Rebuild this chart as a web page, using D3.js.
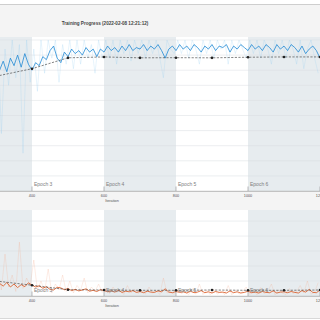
<!DOCTYPE html>
<html lang="en">
<head>
    <meta charset="UTF-8">
    <title>Training Progress</title>
    <style>
        body {
            margin: 0;
            padding: 0;
            background-color: #ffffff;
        }
        svg {
            display: block;
            font-family: "Liberation Sans", Arial, sans-serif;
        }
        .grid line {
            stroke: #d9dde0;
            stroke-width: 0.5px;
        }
        .tick-label {
            font-size: 3.8px;
            fill: #555;
        }
        .epoch-label {
            font-size: 5px;
            fill: #808080;
        }
    </style>
</head>
<body>
    <svg id="chart" width="320" height="320"></svg>

    <script src="https://d3js.org/d3.v7.min.js"></script>
    <script>
        // smoothed training values, every 10 iterations from 310 to 1200
        const iters = d3.range(310, 1201, 10);
        const accSmooth = [
            80, 86, 79, 88, 83, 90, 82, 91, 84, 80,
            85, 83, 89, 87, 93, 96, 88, 85, 92, 89,
            94, 91, 93, 90, 95, 92, 94, 89, 94, 92,
            96, 93, 95, 92, 96, 93, 97, 93, 95, 94,
            97, 93, 96, 94, 97, 93, 88, 94, 96, 93,
            97, 94, 96, 93, 97, 95, 92, 96, 94, 97,
            93, 96, 95, 97, 92, 96, 94, 97, 95, 93,
            97, 94, 96, 93, 97, 95, 92, 97, 94, 96,
            93, 97, 95, 92, 96, 91, 94, 96, 93, 88
        ];
        const lossSmooth = [
            .42, .33, .45, .30, .40, .28, .38, .31, .44, .36,
            .30, .34, .26, .31, .22, .20, .29, .27, .21, .25,
            .18, .22, .17, .20, .24, .16, .19, .15, .21, .18,
            .14, .17, .13, .19, .12, .16, .14, .18, .12, .15,
            .11, .16, .13, .12, .17, .14, .24, .13, .11, .15,
            .12, .14, .10, .16, .11, .13, .18, .11, .14, .10,
            .15, .12, .13, .10, .17, .11, .14, .10, .12, .16,
            .11, .13, .10, .15, .12, .11, .17, .10, .13, .14,
            .11, .15, .12, .10, .18, .13, .22, .12, .11, .20
        ];

        // raw minibatch values, every 10 iterations from 305 to 1195
        const rawIters = d3.range(305, 1196, 10);
        const accRaw = [
            100, 38, 94, 70, 100, 75, 97, 25, 100, 72,
            94, 66, 100, 78, 100, 88, 100, 72, 97, 84,
            100, 81, 100, 84, 100, 88, 97, 78, 100, 88,
            100, 88, 100, 84, 100, 91, 100, 86, 100, 91,
            100, 88, 100, 91, 100, 88, 75, 100, 94, 91,
            100, 91, 100, 88, 100, 94, 84, 100, 91, 100,
            88, 100, 94, 100, 84, 100, 91, 100, 94, 88,
            100, 91, 100, 88, 100, 94, 84, 100, 91, 100,
            88, 100, 94, 84, 100, 81, 94, 100, 88, 78
        ];
        const lossRaw = [
            .9, .2, 1.4, .3, .7, .15, 1.8, .25, .6, .35,
            1.2, .2, .5, .15, .9, .1, .4, .2, .7, .15,
            .5, .1, .35, .2, .6, .1, .3, .15, .4, .12,
            .25, .08, .3, .12, .2, .05, .35, .1, .22, .08,
            .2, .06, .3, .1, .18, .05, .6, .1, .15, .05,
            .2, .08, .15, .04, .25, .06, .4, .05, .2, .04,
            .22, .06, .15, .05, .35, .04, .2, .06, .15, .3,
            .05, .18, .04, .28, .08, .15, .4, .04, .2, .1,
            .05, .25, .08, .15, .35, .1, .5, .06, .12, .45
        ];

        // validation, every 100 iterations
        const valIters = [300, 400, 500, 600, 700, 800, 900, 1000, 1100, 1200];
        const valAcc = [76, 81, 88.2, 88.8, 88.2, 88.3, 88.2, 88.6, 88.8, 88.8];
        const valLoss = [0.5, 0.36, 0.21, 0.2, 0.19, 0.19, 0.2, 0.19, 0.19, 0.2];

        // epochs
        const epochStarts = [200, 400, 600, 800, 1000];
        const epochNums = [2, 3, 4, 5, 6];
        const xTicks = [400, 600, 800, 1000, 1200];
        const titleText = 'Training Progress (2022-02-08 12:21:12)';

        const svg = d3.select('#chart');
        const W = 320, H = 320;

        svg.append('rect').attr('width', W).attr('height', H).attr('fill', '#f4f4f4');
        svg.append('rect').attr('width', W).attr('height', 4).attr('fill', '#ffffff');
        svg.append('rect').attr('y', 319).attr('width', W).attr('height', 1).attr('fill', '#ffffff');
        svg.append('line').attr('x1', 0).attr('x2', W).attr('y1', 4.5).attr('y2', 4.5)
            .attr('stroke', '#c4c4c4').attr('stroke-width', 0.8);
        svg.append('line').attr('x1', 0).attr('x2', W).attr('y1', 318.5).attr('y2', 318.5)
            .attr('stroke', '#d0d0d0').attr('stroke-width', 0.8);

        svg.append('text')
            .attr('x', 105).attr('y', 24.5)
            .attr('text-anchor', 'middle')
            .attr('font-size', 4.6).attr('font-weight', 'bold').attr('fill', '#444')
            .text(titleText);

        const x = d3.scaleLinear().domain([300, 1200]).range([-4, 320]);

        const panels = [
            { top: 37, bottom: 191, y: d3.scaleLinear().domain([0, 102]).range([191, 37]),
              grid: d3.range(10, 101, 10), smooth: accSmooth, raw: accRaw, val: valAcc,
              color: '#2189d4', rawColor: '#8ccbf2', labelY: 186 },
            { top: 210, bottom: 296, y: d3.scaleLinear().domain([0, 2.87]).range([296, 210]),
              grid: d3.range(0.5, 2.9, 0.5), smooth: lossSmooth, raw: lossRaw, val: valLoss,
              color: '#d9531b', rawColor: '#f3a583', labelY: 292 }
        ];

        panels.forEach((p, pi) => {
            const clipId = 'clip' + pi;
            svg.append('clipPath').attr('id', clipId)
                .append('rect').attr('x', 0).attr('y', p.top).attr('width', W).attr('height', p.bottom - p.top);
            const g = svg.append('g').attr('clip-path', `url(#${clipId})`);

            // epoch bands
            g.selectAll('.band')
                .data(epochStarts)
                .enter().append('rect')
                .attr('x', d => x(d))
                .attr('width', d => x(d + 200) - x(d))
                .attr('y', p.top)
                .attr('height', p.bottom - p.top)
                .attr('fill', (d, i) => epochNums[i] % 2 === 0 ? '#e7ecef' : '#ffffff');

            // grid
            g.append('g').attr('class', 'grid')
                .selectAll('line')
                .data(p.grid)
                .enter().append('line')
                .attr('x1', 0).attr('x2', W)
                .attr('y1', d => p.y(d)).attr('y2', d => p.y(d));

            // raw line, faint
            g.append('path')
                .datum(p.raw)
                .attr('fill', 'none')
                .attr('stroke', p.rawColor)
                .attr('stroke-opacity', 0.35)
                .attr('stroke-width', 0.6)
                .attr('d', d3.line().x((d, i) => x(rawIters[i])).y(d => p.y(d)));

            // smoothed line
            g.append('path')
                .datum(p.smooth)
                .attr('fill', 'none')
                .attr('stroke', p.color)
                .attr('stroke-width', 0.8)
                .attr('d', d3.line().x((d, i) => x(iters[i])).y(d => p.y(d)));

            // validation
            g.append('path')
                .datum(p.val)
                .attr('fill', 'none')
                .attr('stroke', '#333')
                .attr('stroke-width', 0.6)
                .attr('stroke-dasharray', '2.2,1.4')
                .attr('d', d3.line().x((d, i) => x(valIters[i])).y(d => p.y(d)));

            g.selectAll('.valdot')
                .data(p.val)
                .enter().append('circle')
                .attr('cx', (d, i) => x(valIters[i]))
                .attr('cy', d => p.y(d))
                .attr('r', 1.3)
                .attr('fill', '#222');

            // epoch labels
            g.selectAll('.epoch-label')
                .data(epochStarts.slice(1))
                .enter().append('text')
                .attr('class', 'epoch-label')
                .attr('x', d => x(d) + 2)
                .attr('y', p.labelY)
                .text((d, i) => 'Epoch ' + epochNums[i + 1]);

            // x axis
            const axis = svg.append('g');
            axis.append('line')
                .attr('x1', 0).attr('x2', W)
                .attr('y1', p.bottom + 0.3).attr('y2', p.bottom + 0.3)
                .attr('stroke', '#8c8c8c').attr('stroke-width', 0.6);
            axis.selectAll('.tickmark')
                .data(xTicks)
                .enter().append('line')
                .attr('x1', d => x(d)).attr('x2', d => x(d))
                .attr('y1', p.bottom - 4.5).attr('y2', p.bottom)
                .attr('stroke', '#777').attr('stroke-width', 0.5);
            axis.selectAll('.tick-label')
                .data(xTicks)
                .enter().append('text')
                .attr('class', 'tick-label')
                .attr('x', d => x(d))
                .attr('y', p.bottom + 5.5)
                .attr('text-anchor', 'middle')
                .text(d => d);
            axis.append('text')
                .attr('class', 'tick-label')
                .attr('x', 112).attr('y', p.bottom + 10.5)
                .attr('text-anchor', 'middle')
                .text('Iteration');
        });
    </script>
</body>
</html>
